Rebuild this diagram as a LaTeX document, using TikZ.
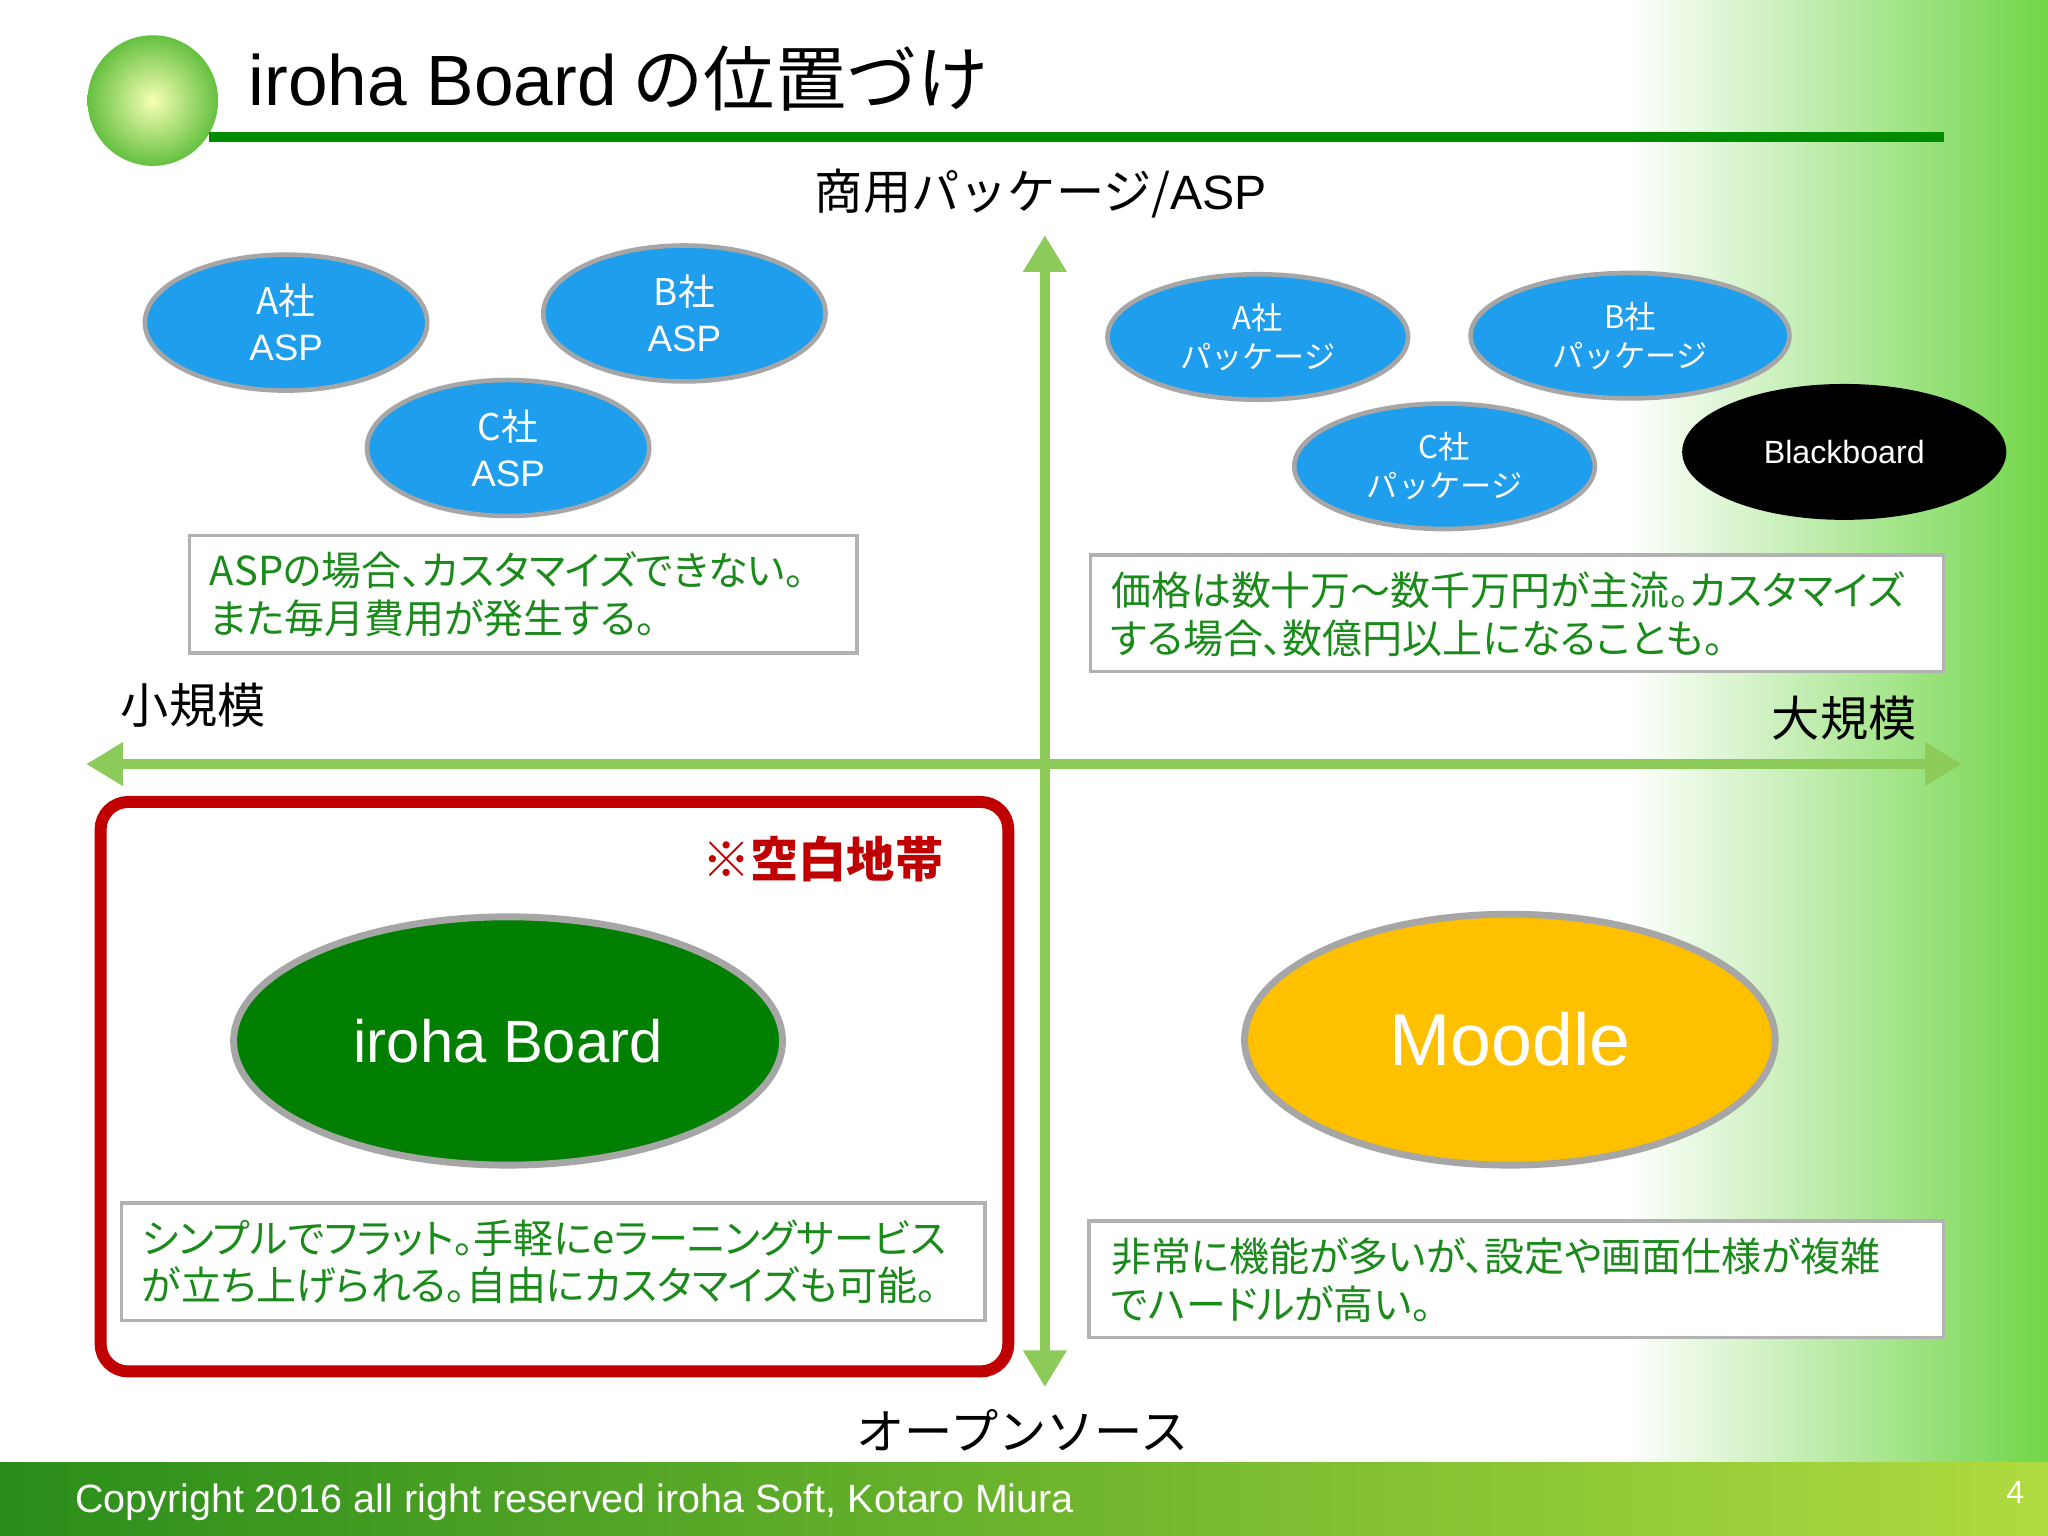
\documentclass[tikz,border=0pt]{standalone}
\usepackage{fontspec}
\setmainfont{Noto Sans CJK JP}
\newfontfamily\jp[RawFeature=+palt]{Noto Sans CJK JP}
\newfontfamily\lat{Liberation Sans}
\usetikzlibrary{shapes.geometric,arrows.meta}
\definecolor{axis}{HTML}{8CCB5A}
\definecolor{blu}{HTML}{1E9EEC}
\definecolor{txtg}{HTML}{1A8A1A}
\definecolor{drk}{HTML}{007F00}
\definecolor{ylw}{HTML}{FFC000}
\definecolor{redc}{HTML}{C00000}
\tikzset{
 bl/.style={ellipse,fill=blu,draw=gray!70,line width=1pt,text=white,font=\fontsize{8}{10}\selectfont,align=center,inner sep=0pt},
 tbox/.style={text=txtg,font=\jp\fontsize{8.7}{10.4}\selectfont,align=left,anchor=west,inner sep=0pt},
 bx/.style={draw=gray!60,line width=0.8pt,fill=white},
 ax/.style={line width=2.3pt,color=axis,{Triangle[length=8pt,width=9pt]}-{Triangle[length=8pt,width=9pt]}},
 lab/.style={font=\fontsize{10.5}{12}\selectfont}
}
\begin{document}
\begin{tikzpicture}[x=0.01cm,y=-0.01cm]
\useasboundingbox (0,0) rectangle (1568,1176);
\fill[white] (0,0) rectangle (1568,1176);
\shade[left color=white,right color=axis!80!green] (1245,0) rectangle (1568,1120);
\shade[left color=green!45!black!70!axis,right color=axis!70!yellow] (0,1120) rectangle (1568,1176);
\shade[inner color=green!10!yellow!30,outer color=axis!80!green!90!black] (117,77) circle (50);
\draw[green!55!black,line width=2.2pt] (160,105) -- (1488,105);
\node[anchor=west,font=\fontsize{15.5}{18}\selectfont] (title) at (178,60) {{\lat iroha Board} の位置づけ};
% axes
\coordinate (vt) at (800,180); \coordinate (vb) at (800,1062);
\coordinate (hl) at (66,585); \coordinate (hr) at (1502,585);
\draw[ax] (vb) -- (vt);
\draw[ax] (hl) -- (hr);
\node[lab] (top) at (797,148) {商用パッケージ/{\lat ASP}};
\node[lab] (sm) at (148,540) {小規模};
\node[lab] (lg) at (1412,550) {大規模};
\node[lab] (bot) at (783,1095) {オープンソース};
% ellipses
\node[bl,minimum width=2.16cm,minimum height=1.04cm] (aasp) at (219,247) {A社\\{\lat ASP}};
\node[bl,minimum width=2.16cm,minimum height=1.04cm] (basp) at (524,240) {B社\\{\lat ASP}};
\node[bl,minimum width=2.16cm,minimum height=1.04cm] (casp) at (389,343) {C社\\{\lat ASP}};
\node[bl,minimum width=2.3cm,minimum height=0.96cm,font=\fontsize{6.8}{8.5}\selectfont] (apk) at (963,258) {A社\\パッケージ};
\node[bl,minimum width=2.44cm,minimum height=0.96cm,font=\fontsize{6.8}{8.5}\selectfont] (bpk) at (1248,257) {B社\\パッケージ};
\node[bl,minimum width=2.3cm,minimum height=0.96cm,font=\fontsize{6.8}{8.5}\selectfont] (cpk) at (1106,357) {C社\\パッケージ};
\node[ellipse,fill=black,text=white,minimum width=2.48cm,minimum height=1.04cm,inner sep=0pt,font=\lat\fontsize{7}{8.5}\selectfont] (bb) at (1412,346) {Blackboard};
% text boxes
\draw[bx] (145,410) rectangle (656,500);
\node[tbox] (t1) at (160,455) {ASPの場合、カスタマイズできない。\\また毎月費用が発生する。};
\draw[bx] (835,425) rectangle (1488,514);
\node[tbox] (t2) at (850,470) {価格は数十万～数千万円が主流。カスタマイズ\\する場合、数億円以上になることも。};
% red box
\draw[redc,line width=2.6pt,rounded corners=6] (77,614) rectangle (772,1050);
\node[text=redc,font=\bfseries\fontsize{10.5}{12}\selectfont] (blank) at (630,658) {※空白地帯};
\node[ellipse,fill=drk,draw=gray!70,line width=1.5pt,minimum width=4.2cm,minimum height=1.9cm,inner sep=0pt,text=white,font=\lat\fontsize{13}{15}\selectfont] (iroha) at (389,797) {iroha Board};
\draw[bx] (93,921) rectangle (754,1011);
\node[tbox] (t3) at (108,966) {シンプルでフラット。手軽にeラーニングサービス\\が立ち上げられる。自由にカスタマイズも可能。};
\node[ellipse,fill=ylw,draw=gray!70,line width=1.5pt,minimum width=4.06cm,minimum height=1.92cm,inner sep=0pt,text=white,font=\lat\fontsize{16}{18}\selectfont] (moodle) at (1156,796) {Moodle};
\draw[bx] (834,935) rectangle (1488,1024);
\node[tbox] (t4) at (850,980) {非常に機能が多いが、設定や画面仕様が複雑\\でハードルが高い。};
% footer
\node[anchor=west,text=white,font=\lat\fontsize{8.6}{10}\selectfont] (foot) at (45,1150) {Copyright 2016 all right reserved iroha Soft, Kotaro Miura};
\node[text=white,font=\lat\fontsize{7}{9}\selectfont] (pg) at (1543,1143) {4};
\end{tikzpicture}
\end{document}
